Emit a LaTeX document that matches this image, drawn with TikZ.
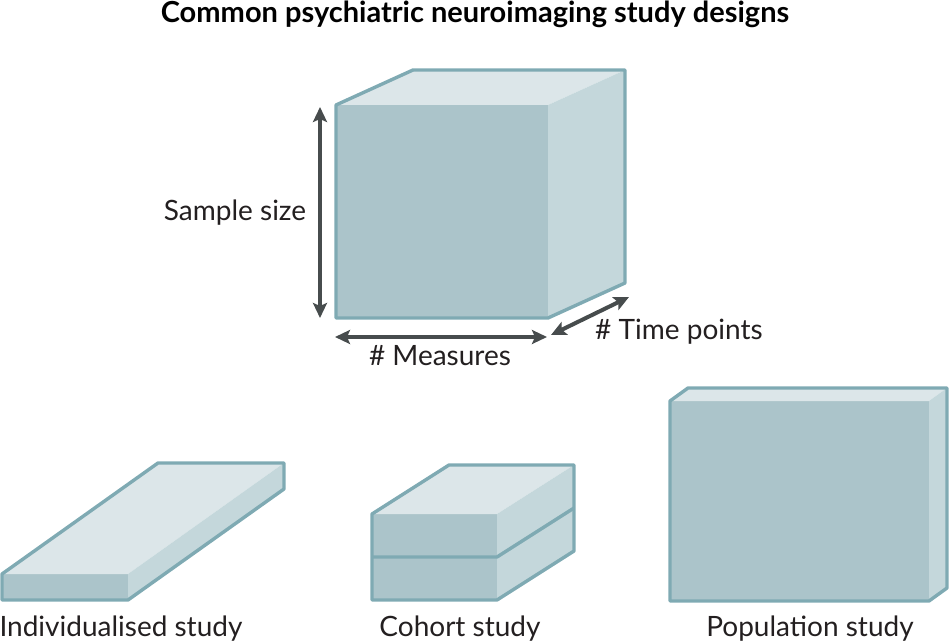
\documentclass[tikz,border=0pt]{standalone}
\usepackage{fontspec}
\setmainfont{Lato}
\usetikzlibrary{arrows.meta}
\definecolor{frontc}{HTML}{ABC4CA}
\definecolor{topc}{HTML}{DCE6E9}
\definecolor{sidec}{HTML}{C4D7DB}
\definecolor{edgec}{HTML}{7FAAB3}
\definecolor{arrc}{HTML}{474C4D}
\definecolor{txtc}{HTML}{231F20}
\newcommand\studybox[6]{%
  \fill[frontc] (#1,#2) rectangle ({#1+#3},{#2+#4});
  \fill[topc] (#1,#2) -- ({#1+#5},{#2+#6}) -- ({#1+#3+#5},{#2+#6}) -- ({#1+#3},#2) -- cycle;
  \fill[sidec] ({#1+#3},#2) -- ({#1+#3+#5},{#2+#6}) -- ({#1+#3+#5},{#2+#4+#6}) -- ({#1+#3},{#2+#4}) -- cycle;
  \draw[boxedge] (#1,{#2+#4}) -- (#1,#2) -- ({#1+#5},{#2+#6}) -- ({#1+#3+#5},{#2+#6}) -- ({#1+#3+#5},{#2+#4+#6}) -- ({#1+#3},{#2+#4}) -- cycle;
}
\begin{document}
\begin{tikzpicture}[x=1pt,y=-1pt,
  boxedge/.style={draw=edgec,line width=3.4pt,line join=round},
  dimarrow/.style={arrc,line width=4pt,{Stealth[length=15pt,width=14pt,inset=3pt]}-{Stealth[length=15pt,width=14pt,inset=3pt]}},
  lbl/.style={text=txtc,font=\fontsize{28}{32}\selectfont,inner sep=0pt},
  ttl/.style={text=black,font=\bfseries\fontsize{29}{33}\selectfont,inner sep=0pt}]
\useasboundingbox (0,0) rectangle (950,644);
\node[ttl] (title) at (475,14) {Common psychiatric neuroimaging study designs};
% main cube
\studybox{336}{105}{212}{213}{77}{-35}
\coordinate (va) at (320,107);
\coordinate (vb) at (320,318);
\coordinate (ha) at (335,337);
\coordinate (hb) at (547,337);
\coordinate (da) at (551,335);
\coordinate (db) at (629,297);
\draw[dimarrow] (va) -- (vb);
\draw[dimarrow] (ha) -- (hb);
\draw[dimarrow] (da) -- (db);
\node[lbl] (ss) at (235,213) {Sample size};
\node[lbl] (meas) at (440,356) {\# Measures};
\node[lbl,anchor=west] (tp) at (595,332) {\# Time points};
% individualised
\studybox{2}{574}{126}{26}{156}{-111}
\node[lbl] (ind) at (121,629) {Individualised study};
% cohort
\studybox{372}{514}{125}{86}{77}{-49}
\draw[boxedge] (372,557) -- (497,557) -- (574,508);
\node[lbl] (coh) at (460,629) {Cohort study};
% population
\studybox{670}{401}{259}{200}{18}{-13}
\node[lbl] (pop) at (810,629) {Population study};
\end{tikzpicture}
\end{document}
